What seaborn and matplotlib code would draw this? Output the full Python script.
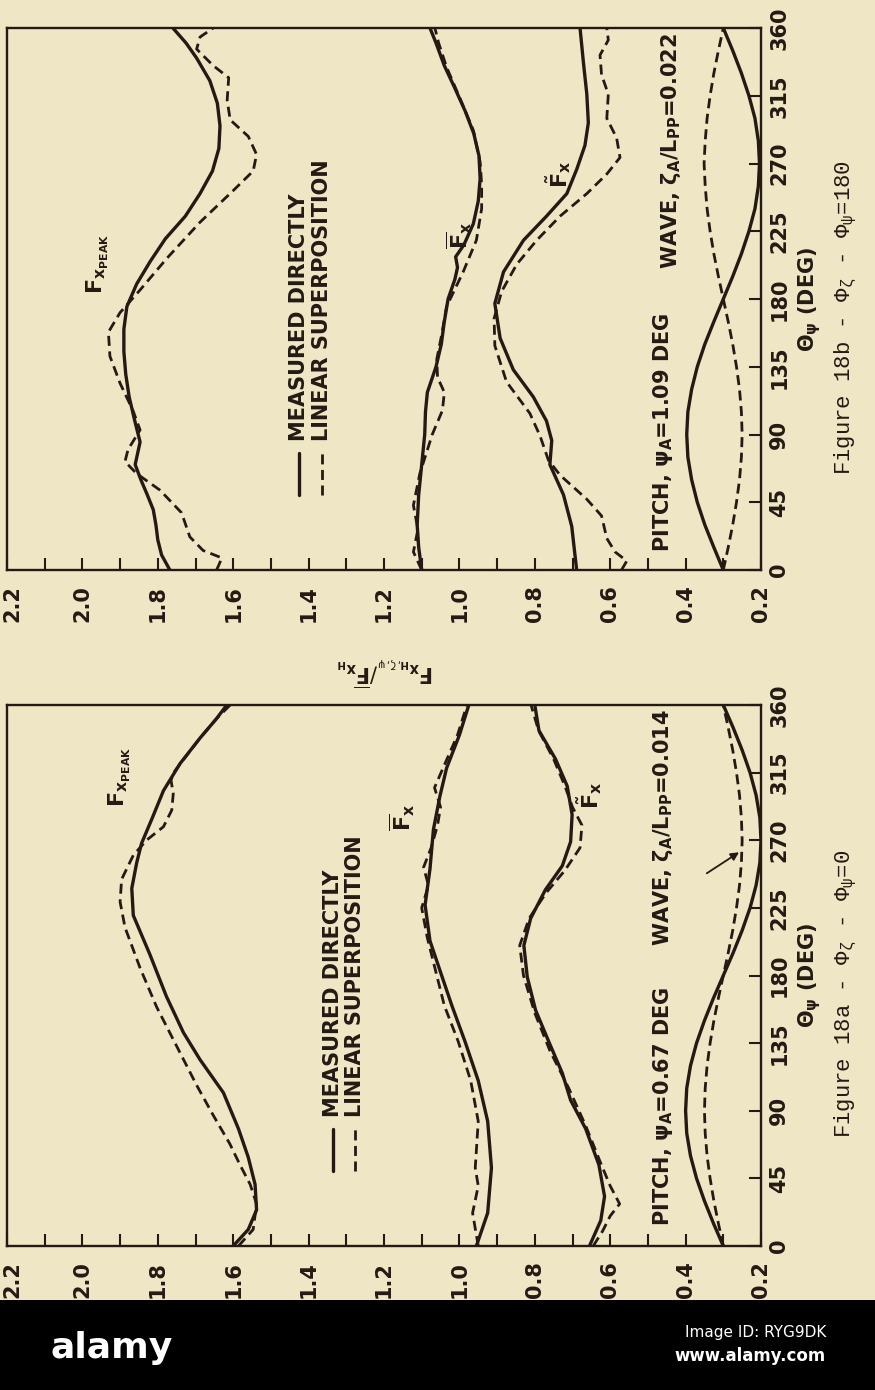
import numpy as np
import pandas as pd
import seaborn as sns
import matplotlib.pyplot as plt
import matplotlib.transforms as mtransforms
from matplotlib.patches import Rectangle

# ---- data (theta in deg, force ratio) ----
# Figure 18b (upper panel), phase difference 180
peak_b_meas_th = [0, 10, 20, 30, 40, 50, 60, 70, 85, 100, 115, 130, 145, 160, 175, 190, 205,
                  220, 235, 250, 265, 280, 295, 310, 325, 340, 350, 360]
peak_b_meas = [1.768, 1.790, 1.800, 1.805, 1.812, 1.828, 1.845, 1.860, 1.847, 1.862, 1.876, 1.885,
               1.890, 1.890, 1.882, 1.856, 1.820, 1.780, 1.727, 1.688, 1.655, 1.638, 1.635, 1.642,
               1.662, 1.697, 1.725, 1.760]
peak_b_lin_th = [0, 8, 13, 22, 38, 53, 64, 72, 80, 93, 106, 124, 142, 158, 171, 186, 207, 231, 252,
                 265, 276, 288, 299, 312, 327, 335, 346, 354, 360]
peak_b_lin = [1.644, 1.630, 1.680, 1.715, 1.737, 1.794, 1.856, 1.887, 1.879, 1.847, 1.866, 1.900,
              1.927, 1.931, 1.900, 1.847, 1.776, 1.688, 1.600, 1.547, 1.538, 1.560, 1.608, 1.616,
              1.612, 1.653, 1.697, 1.688, 1.653]
mean_b_meas_th = [0, 15, 30, 50, 70, 90, 105, 118, 135, 150, 165, 180, 193, 201, 208, 216, 230, 245,
                  260, 275, 290, 305, 320, 335, 350, 360]
mean_b_meas = [1.100, 1.108, 1.112, 1.108, 1.100, 1.092, 1.090, 1.085, 1.062, 1.048, 1.040, 1.030,
               1.012, 1.005, 1.010, 0.988, 0.963, 0.950, 0.945, 0.948, 0.962, 0.985, 1.012, 1.040,
               1.062, 1.078]
mean_b_lin_th = [0, 12, 27, 43, 64, 90, 106, 118, 128, 140, 155, 175, 198, 219, 240, 256, 271, 292,
                 313, 334, 350, 360]
mean_b_lin = [1.100, 1.122, 1.110, 1.122, 1.105, 1.072, 1.045, 1.040, 1.058, 1.060, 1.048, 1.034,
              0.990, 0.955, 0.941, 0.941, 0.945, 0.963, 0.998, 1.034, 1.055, 1.065]
amp_b_meas_th = [0, 29, 50, 70, 86, 99, 115, 133, 154, 177, 198, 219, 235, 250, 266, 282, 297, 316,
                 337, 360]
amp_b_meas = [0.689, 0.702, 0.724, 0.760, 0.755, 0.769, 0.804, 0.857, 0.892, 0.906, 0.883, 0.830,
              0.769, 0.715, 0.689, 0.667, 0.658, 0.662, 0.671, 0.680]
amp_b_lin_th = [0, 6, 12, 21, 36, 47, 63, 73, 89, 104, 125, 149, 167, 185, 203, 219, 235, 250, 263,
                274, 287, 300, 316, 329, 342, 352, 360]
amp_b_lin = [0.570, 0.556, 0.587, 0.609, 0.623, 0.662, 0.733, 0.764, 0.786, 0.813, 0.875, 0.906,
             0.908, 0.888, 0.848, 0.795, 0.733, 0.662, 0.609, 0.574, 0.583, 0.609, 0.605, 0.623,
             0.627, 0.605, 0.609]

# Figure 18a (lower panel), phase difference 0
peak_a_meas_th = [0, 11, 24, 41, 59, 78, 102, 124, 142, 166, 194, 220, 238, 255, 268, 284, 303, 321,
                  338, 351, 360]
peak_a_meas = [1.600, 1.560, 1.538, 1.542, 1.560, 1.586, 1.626, 1.688, 1.732, 1.777, 1.821, 1.865,
               1.869, 1.856, 1.843, 1.816, 1.785, 1.741, 1.688, 1.644, 1.617]
peak_a_lin_th = [0, 11, 28, 41, 54, 68, 87, 107, 133, 159, 185, 212, 229, 244, 260, 270, 279, 290,
                 301, 310, 316, 322, 338, 351, 360]
peak_a_lin = [1.586, 1.547, 1.538, 1.555, 1.582, 1.609, 1.653, 1.697, 1.750, 1.803, 1.847, 1.887,
              1.900, 1.896, 1.865, 1.830, 1.785, 1.763, 1.759, 1.765, 1.755, 1.737, 1.688, 1.644,
              1.608]
mean_a_meas_th = [0, 22, 52, 83, 110, 136, 160, 177, 203, 227, 251, 277, 299, 318, 340, 360]
mean_a_meas = [0.955, 0.925, 0.915, 0.925, 0.950, 0.985, 1.020, 1.043, 1.078, 1.091, 1.078, 1.069,
               1.052, 1.034, 1.000, 0.975]
mean_a_lin_th = [0, 22, 40, 52, 83, 110, 136, 160, 185, 205, 225, 240, 252, 265, 280, 292, 305, 320,
                 340, 360]
mean_a_lin = [0.950, 0.965, 0.950, 0.958, 0.950, 0.970, 1.003, 1.040, 1.065, 1.085, 1.100, 1.082,
              1.095, 1.075, 1.058, 1.050, 1.066, 1.040, 1.005, 0.980]
amp_a_meas_th = [0, 17, 33, 54, 78, 97, 115, 136, 157, 179, 200, 218, 237, 253, 269, 287, 306, 324,
                 343, 360]
amp_a_meas = [0.655, 0.625, 0.615, 0.630, 0.665, 0.705, 0.727, 0.763, 0.798, 0.820, 0.829, 0.811,
              0.772, 0.727, 0.705, 0.701, 0.714, 0.745, 0.789, 0.800]
amp_a_lin_th = [0, 10, 20, 28, 40, 55, 80, 105, 130, 155, 180, 200, 218, 235, 250, 265, 280, 292,
                306, 324, 343, 360]
amp_a_lin = [0.645, 0.620, 0.600, 0.575, 0.600, 0.625, 0.665, 0.710, 0.760, 0.800, 0.830, 0.840,
             0.815, 0.770, 0.720, 0.680, 0.675, 0.700, 0.720, 0.750, 0.790, 0.810]

# pitch (solid) and wave (dashed) traces, every 15 deg
motion_th = list(range(0, 361, 15))
pitch_a = [0.300, 0.326, 0.350, 0.371, 0.387, 0.397, 0.400, 0.397, 0.387, 0.371, 0.350, 0.326, 0.300,
           0.274, 0.250, 0.229, 0.213, 0.203, 0.200, 0.203, 0.213, 0.229, 0.250, 0.274, 0.300]
wave_a = [0.300, 0.313, 0.325, 0.335, 0.343, 0.348, 0.350, 0.348, 0.343, 0.335, 0.325, 0.313, 0.300,
          0.287, 0.275, 0.265, 0.257, 0.252, 0.250, 0.252, 0.257, 0.265, 0.275, 0.287, 0.300]
pitch_b = [0.300, 0.325, 0.349, 0.369, 0.384, 0.394, 0.397, 0.394, 0.384, 0.369, 0.349, 0.325, 0.300,
           0.275, 0.252, 0.232, 0.216, 0.207, 0.204, 0.207, 0.216, 0.232, 0.252, 0.275, 0.300]
wave_b = [0.300, 0.287, 0.275, 0.265, 0.257, 0.252, 0.250, 0.252, 0.257, 0.265, 0.275, 0.287, 0.300,
          0.313, 0.325, 0.335, 0.343, 0.348, 0.351, 0.348, 0.343, 0.335, 0.325, 0.313, 0.300]

f_ticks = [0.2, 0.4, 0.6, 0.8, 1.0, 1.2, 1.4, 1.6, 1.8, 2.0, 2.2]
f_tick_labels = ['0.2', '0.4', '0.6', '0.8', '1.0', '1.2', '1.4', '1.6', '1.8', '2.0', '2.2']
theta_ticks = [0, 45, 90, 135, 180, 225, 270, 315, 360]
theta_tick_labels = ['0', '45', '90', '135', '180', '225', '270', '315', '360']

sns.set_theme(style='white')
plt.rcParams['font.family'] = ['DejaVu Sans']
plt.rcParams['mathtext.default'] = 'regular'

paper = '#eee6c5'
ink = '#241a13'
dash = (0, (3.6, 2.0))

fig = plt.figure(figsize=(8.75, 13.90), dpi=100, facecolor=paper)
ax_b = fig.add_axes([7 / 875, 1 - 570 / 1390, 754 / 875, 542 / 1390])
ax_a = fig.add_axes([7 / 875, 1 - 1246 / 1390, 754 / 875, 541 / 1390])


def style_axis(ax):
    ax.set_facecolor(paper)
    ax.set_xlim(2.2, 0.2)
    ax.set_ylim(0, 360)
    ax.set_xticks(f_ticks)
    ax.set_xticklabels(f_tick_labels, rotation=90, fontsize=15, fontweight='bold', color=ink)
    ax.set_xticks(np.arange(0.3, 2.2, 0.2), minor=True)
    ax.yaxis.tick_right()
    ax.set_yticks(theta_ticks)
    ax.set_yticklabels(theta_tick_labels, rotation=90, va='center', fontsize=15,
                       fontweight='bold', color=ink)
    ax.tick_params(axis='x', which='both', direction='in', length=8.5, width=1.5, color=ink,
                   bottom=True, top=False, pad=11)
    ax.tick_params(axis='y', which='both', direction='in', length=8.5, width=1.5, color=ink,
                   right=True, left=False, pad=6)
    for s in ax.spines.values():
        s.set_linewidth(1.7)
        s.set_color(ink)
    ax.grid(False)
    ax.set_xlabel('')
    ax.set_ylabel('')
    # the "2.2" label sits against the page edge
    edge = ax.get_xticklabels()[-1]
    edge.set_horizontalalignment('left')
    edge.set_transform(edge.get_transform() +
                       mtransforms.ScaledTranslation(-5 / 100, 0, fig.dpi_scale_trans))


def draw(ax, th, vals, dashed):
    kw = dict(linestyle=dash, lw=2.0) if dashed else dict(linestyle='-', lw=2.4)
    sns.lineplot(x=vals, y=th, orient='y', sort=False, estimator=None, errorbar=None,
                 color=ink, ax=ax, **kw)


panel_b = [(peak_b_meas_th, peak_b_meas, False), (peak_b_lin_th, peak_b_lin, True),
           (mean_b_meas_th, mean_b_meas, False), (mean_b_lin_th, mean_b_lin, True),
           (amp_b_meas_th, amp_b_meas, False), (amp_b_lin_th, amp_b_lin, True),
           (motion_th, pitch_b, False), (motion_th, wave_b, True)]
panel_a = [(peak_a_meas_th, peak_a_meas, False), (peak_a_lin_th, peak_a_lin, True),
           (mean_a_meas_th, mean_a_meas, False), (mean_a_lin_th, mean_a_lin, True),
           (amp_a_meas_th, amp_a_meas, False), (amp_a_lin_th, amp_a_lin, True),
           (motion_th, pitch_a, False), (motion_th, wave_a, True)]

for ax, curves in [(ax_b, panel_b), (ax_a, panel_a)]:
    for th, vals, dashed in curves:
        draw(ax, th, vals, dashed)
    style_axis(ax)

txt = dict(rotation=90, rotation_mode='anchor', color=ink)

# legends (drawn by hand, the page is turned on its side)
for ax, f1, f2 in [(ax_b, 1.425, 1.365), (ax_a, 1.335, 1.278)]:
    ax.plot([f1, f1], [50, 78], color=ink, lw=2.4)
    ax.plot([f2, f2], [50, 78], color=ink, lw=2.0, linestyle=dash)
    ax.text(f1, 86, 'MEASURED DIRECTLY', ha='left', va='center', fontsize=15,
            fontweight='bold', **txt)
    ax.text(f2, 86, 'LINEAR SUPERPOSITION', ha='left', va='center', fontsize=15,
            fontweight='bold', **txt)

# curve names
lbl = dict(ha='center', va='center', fontsize=16, **txt)
ax_b.text(1.96, 203, r'$\mathbf{F}_{\mathbf{x}_{\mathbf{PEAK}}}$', **lbl)
ax_b.text(1.00, 222, r'$\overline{\mathbf{F}}_{\mathbf{x}}$', **lbl)
ax_b.text(0.737, 263, r'$\tilde{\mathbf{F}}_{\mathbf{x}}$', **lbl)
ax_a.text(1.90, 312, r'$\mathbf{F}_{\mathbf{x}_{\mathbf{PEAK}}}$', **lbl)
ax_a.text(1.15, 285, r'$\overline{\mathbf{F}}_{\mathbf{x}}$', **lbl)
ax_a.text(0.655, 300, r'$\tilde{\mathbf{F}}_{\mathbf{x}}$', **lbl)

# motion amplitudes
mot = dict(va='center', fontsize=15, fontweight='bold', **txt)
ax_b.text(0.46, 12, r'PITCH, $\psi_{\mathbf{A}}$=1.09 DEG', ha='left', **mot)
ax_b.text(0.44, 357, r'WAVE, $\zeta_{\mathbf{A}}/\mathbf{L}_{\mathbf{PP}}$=0.022', ha='right', **mot)
ax_a.text(0.46, 13, r'PITCH, $\psi_{\mathbf{A}}$=0.67 DEG', ha='left', **mot)
ax_a.text(0.46, 357, r'WAVE, $\zeta_{\mathbf{A}}/\mathbf{L}_{\mathbf{PP}}$=0.014', ha='right', **mot)
ax_a.annotate('', xy=(0.252, 263), xytext=(0.35, 247),
              arrowprops=dict(arrowstyle='-|>', color=ink, lw=1.3, mutation_scale=12))

# axis titles and captions
for ax, cap in [(ax_b, r'Figure 18b - $\Phi_\zeta$ - $\Phi_\psi$=180'),
                (ax_a, r'Figure 18a - $\Phi_\zeta$ - $\Phi_\psi$=0')]:
    ax.text(1.065, 0.5, r'$\Theta_\psi$ (DEG)', transform=ax.transAxes, ha='center',
            va='center', fontsize=15, fontweight='bold', **txt)
    ax.text(1.112, 0.465, cap, transform=ax.transAxes, ha='center', va='center',
            fontsize=16, family='Liberation Mono', **txt)

fig.text(385 / 875, 1 - 672 / 1390,
         r'$\mathbf{F}_{\mathbf{x}_{\mathbf{H},\zeta,\psi}}/\overline{\mathbf{F}}_{\mathbf{x}_{\mathbf{H}}}$',
         rotation=180, ha='center', va='center', fontsize=15, color=ink)

# stock-photo footer band
fig.patches.append(Rectangle((0, 0), 1, 90 / 1390, transform=fig.transFigure,
                             facecolor='black', edgecolor='none'))
fig.text(50 / 875, 1 - 1348 / 1390, 'alamy', color='white', fontsize=26, fontweight='bold',
         ha='left', va='center')
fig.text(826 / 875, 1 - 1332 / 1390, 'Image ID: RYG9DK', color='white', fontsize=11,
         ha='right', va='center')
fig.text(826 / 875, 1 - 1356 / 1390, 'www.alamy.com', color='white', fontsize=12,
         fontweight='bold', ha='right', va='center')

fig.savefig('out.png', dpi=100, facecolor=paper)
